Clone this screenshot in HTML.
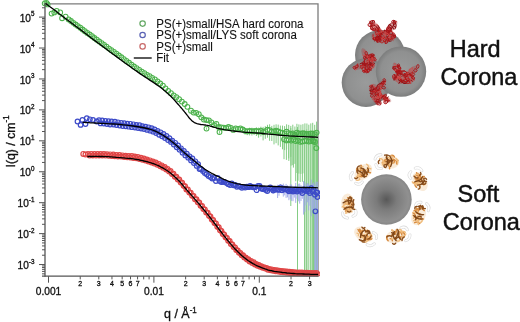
<!DOCTYPE html>
<html><head><meta charset="utf-8"><style>
html,body{margin:0;padding:0;background:#fff;width:520px;height:322px;overflow:hidden}
svg{display:block}
.mg circle{r:2.4px} .mb circle{r:2.3px} .mr circle{r:2.4px}
text{font-family:"Liberation Sans",Arial,sans-serif;fill:#111;stroke:#111;stroke-width:0.3px}
.lg{stroke-width:0.1px} .big{stroke-width:0.45px}
</style></head><body>
<svg width="520" height="322" viewBox="0 0 520 322">
<defs>
<clipPath id="clip"><rect x="41" y="-0.10000000000000009" width="279" height="276.3"/></clipPath>
<radialGradient id="gh" cx="50%" cy="50%" r="50%"><stop offset="0" stop-color="#9a9b9b"/><stop offset="0.8" stop-color="#8f9090"/><stop offset="1" stop-color="#7c7d7d"/></radialGradient>
<radialGradient id="gs" cx="50%" cy="50%" r="50%"><stop offset="0" stop-color="#585858"/><stop offset="0.4" stop-color="#7b7b7b"/><stop offset="0.88" stop-color="#909090"/><stop offset="1" stop-color="#868686"/></radialGradient>
</defs>
<path d="M45 3.9H318V276.2" stroke="#7c7c7c" stroke-width="1.3" fill="none"/>
<g clip-path="url(#clip)">
<path d="M191.0 110.0V111.4M193.6 112.0V113.3M196.2 112.1V113.5M198.8 113.5V114.9M201.3 116.3V118.4M203.9 117.9V121.3M206.4 118.5V121.8M208.9 118.9V121.8M211.4 121.3V123.5M213.9 123.4V127.1M216.4 122.1V126.0M218.8 125.5V128.5M221.3 125.9V128.9M223.7 126.6V128.8M226.1 127.2V128.8M228.5 125.8V128.4M230.9 126.3V129.5M233.3 129.0V130.8M235.7 126.7V130.5M238.0 127.8V130.0M240.4 126.8V130.2M242.7 127.9V131.3M245.0 127.9V134.6M247.3 128.5V135.2M249.6 127.7V135.4M251.9 127.7V135.5M254.1 128.1V135.0M256.4 127.3V136.0M258.6 127.6V137.7M260.9 126.7V136.5M263.1 126.9V140.4M265.3 126.2V138.8M267.5 124.8V137.7M269.6 124.3V140.8M271.8 125.9V141.0M274.0 124.8V144.4M276.1 124.3V143.2M278.2 124.6V145.4M280.4 125.6V146.9M282.5 125.6V149.3M284.6 126.1V150.1M286.6 124.3V149.4M288.7 124.9V158.4M290.8 125.9V156.9M292.8 124.7V165.2M294.9 126.5V163.9M296.9 123.8V173.0M298.9 124.4V173.6M300.9 124.7V173.9M302.9 124.2V173.4M304.9 123.4V276.2M306.9 123.5V276.2M308.8 124.7V200.3M310.8 123.4V276.2M312.7 122.8V276.2M314.7 124.8V276.2M316.6 121.6V276.2M284.0 131.6V159.2M286.4 132.8V159.9M288.8 131.5V160.9M291.1 132.3V165.6M293.4 131.0V167.6M295.7 132.0V181.3M298.0 131.5V180.7M300.2 132.8V182.0M302.4 132.5V181.7M304.6 130.3V276.2M306.7 129.5V276.2M308.8 131.4V276.2M310.9 131.0V276.2M313.0 130.2V276.2M315.0 131.3V276.2M206.5 127.5V129.8M219.5 130.5V133.7M316.3 137.9V276.2M313.5 131.1V276.2M290.8 128V206M297.5 127V276.2M317.5 131V276.2" stroke="#84cc84" stroke-width="1" fill="none"/>
<path d="M240.3 186.4V187.2M241.9 187.4V188.2M243.6 186.4V187.3M245.2 187.1V187.9M246.9 186.3V187.1M248.5 186.8V187.6M250.1 183.3V188.9M251.7 185.8V188.0M253.3 186.5V188.2M254.9 184.7V190.4M256.5 189.0V191.4M258.1 184.8V186.9M259.6 184.0V188.2M261.2 187.1V190.2M262.7 186.7V192.0M264.2 187.5V190.0M265.8 187.4V192.9M267.3 189.7V192.6M268.8 186.4V190.5M270.3 184.9V190.4M271.7 186.8V191.2M273.2 188.0V193.4M274.7 187.6V192.1M276.2 186.9V191.5M277.6 184.7V198.0M279.0 185.7V195.7M280.5 184.2V191.4M281.9 187.5V193.4M283.3 183.6V196.6M284.7 185.4V195.3M286.1 183.9V197.9M287.5 185.3V197.4M288.9 185.9V200.2M290.3 184.3V199.0M291.6 184.5V200.9M293.0 185.9V201.2M294.3 186.5V197.6M295.7 182.8V202.9M297.0 187.0V198.7M298.3 183.8V201.3M299.7 183.5V203.6M301.0 185.2V201.0M302.3 189.0V198.8M303.6 181.1V214.6M304.9 182.3V211.8M306.1 184.3V205.4M307.4 183.1V202.3M308.7 183.6V210.3M309.9 186.7V205.7M311.2 179.6V216.3M312.4 183.6V209.9M313.6 182.4V208.9M314.9 184.2V276.2M316.1 181.7V276.2M317.3 181.8V276.2M317.5 186.5V276.2M315.4 200.7V276.2" stroke="#9ea8e8" stroke-width="0.9" fill="none"/>
<g fill="none" stroke="#4cb24c" stroke-width="1.05" class="mg"><circle cx="44.7" cy="3.3"/><circle cx="46.5" cy="3.0"/><circle cx="47.6" cy="4.4"/><circle cx="51.6" cy="13.6"/><circle cx="54.3" cy="12.4"/><circle cx="56.7" cy="10.9"/><circle cx="60.2" cy="12.4"/><circle cx="62.1" cy="18.2"/><circle cx="65.6" cy="16.7"/><circle cx="68.7" cy="19.4"/><circle cx="71.0" cy="21.0"/><circle cx="73.3" cy="22.8"/><circle cx="75.6" cy="24.5"/><circle cx="77.9" cy="26.1"/><circle cx="80.3" cy="27.7"/><circle cx="82.6" cy="29.5"/><circle cx="84.9" cy="31.2"/><circle cx="87.3" cy="32.9"/><circle cx="89.7" cy="34.5"/><circle cx="92.1" cy="36.2"/><circle cx="94.4" cy="38.0"/><circle cx="96.8" cy="39.7"/><circle cx="99.2" cy="41.5"/><circle cx="101.7" cy="43.2"/><circle cx="104.1" cy="44.9"/><circle cx="106.5" cy="46.6"/><circle cx="109.0" cy="48.6"/><circle cx="111.4" cy="50.2"/><circle cx="113.9" cy="51.9"/><circle cx="116.4" cy="53.6"/><circle cx="118.9" cy="55.5"/><circle cx="121.4" cy="57.3"/><circle cx="123.9" cy="59.1"/><circle cx="126.4" cy="60.9"/><circle cx="129.0" cy="62.8"/><circle cx="131.5" cy="64.6"/><circle cx="134.0" cy="66.5"/><circle cx="136.6" cy="68.2"/><circle cx="139.2" cy="69.8"/><circle cx="141.8" cy="71.7"/><circle cx="144.4" cy="73.1"/><circle cx="147.0" cy="74.8"/><circle cx="149.6" cy="76.2"/><circle cx="152.2" cy="77.9"/><circle cx="154.9" cy="79.4"/><circle cx="157.5" cy="81.3"/><circle cx="160.2" cy="83.5"/><circle cx="162.9" cy="85.6"/><circle cx="165.5" cy="88.3"/><circle cx="168.2" cy="90.8"/><circle cx="171.0" cy="93.2"/><circle cx="173.7" cy="95.3"/><circle cx="176.4" cy="97.1"/><circle cx="179.1" cy="99.2"/><circle cx="181.9" cy="101.6"/><circle cx="184.7" cy="104.0"/><circle cx="187.4" cy="106.8"/><circle cx="191.0" cy="110.7"/><circle cx="193.6" cy="112.6"/><circle cx="196.2" cy="112.8"/><circle cx="198.8" cy="114.2"/><circle cx="201.3" cy="117.3"/><circle cx="203.9" cy="119.5"/><circle cx="206.4" cy="120.1"/><circle cx="208.9" cy="120.3"/><circle cx="211.4" cy="122.3"/><circle cx="213.9" cy="125.1"/><circle cx="216.4" cy="123.9"/><circle cx="218.8" cy="127.0"/><circle cx="221.3" cy="127.3"/><circle cx="223.7" cy="127.7"/><circle cx="226.1" cy="128.0"/><circle cx="228.5" cy="127.0"/><circle cx="230.9" cy="127.8"/><circle cx="233.3" cy="129.9"/><circle cx="235.7" cy="128.4"/><circle cx="238.0" cy="128.9"/><circle cx="240.4" cy="128.4"/><circle cx="242.7" cy="129.5"/><circle cx="245.0" cy="130.8"/><circle cx="247.3" cy="131.4"/><circle cx="249.6" cy="131.0"/><circle cx="251.9" cy="131.1"/><circle cx="254.1" cy="131.1"/><circle cx="256.4" cy="130.9"/><circle cx="258.6" cy="131.7"/><circle cx="260.9" cy="130.7"/><circle cx="263.1" cy="132.0"/><circle cx="265.3" cy="131.1"/><circle cx="267.5" cy="129.7"/><circle cx="269.6" cy="130.2"/><circle cx="271.8" cy="131.4"/><circle cx="274.0" cy="131.3"/><circle cx="276.1" cy="130.7"/><circle cx="278.2" cy="131.3"/><circle cx="280.4" cy="132.4"/><circle cx="282.5" cy="132.8"/><circle cx="284.6" cy="133.4"/><circle cx="286.6" cy="131.7"/><circle cx="288.7" cy="133.1"/><circle cx="290.8" cy="134.0"/><circle cx="292.8" cy="133.4"/><circle cx="294.9" cy="135.0"/><circle cx="296.9" cy="132.7"/><circle cx="298.9" cy="133.4"/><circle cx="300.9" cy="133.7"/><circle cx="302.9" cy="133.2"/><circle cx="304.9" cy="133.7"/><circle cx="306.9" cy="134.1"/><circle cx="308.8" cy="133.9"/><circle cx="310.8" cy="133.5"/><circle cx="312.7" cy="133.7"/><circle cx="314.7" cy="134.2"/><circle cx="316.6" cy="132.6"/><circle cx="284.0" cy="139.3"/><circle cx="286.4" cy="140.4"/><circle cx="288.8" cy="139.4"/><circle cx="291.1" cy="140.6"/><circle cx="293.4" cy="139.4"/><circle cx="295.7" cy="141.0"/><circle cx="298.0" cy="140.5"/><circle cx="300.2" cy="141.8"/><circle cx="302.4" cy="141.5"/><circle cx="304.6" cy="140.9"/><circle cx="306.7" cy="140.7"/><circle cx="308.8" cy="141.5"/><circle cx="310.9" cy="141.1"/><circle cx="313.0" cy="140.4"/><circle cx="315.0" cy="142.0"/><circle cx="206.5" cy="128.6"/><circle cx="219.5" cy="132.0"/><circle cx="316.3" cy="148.1"/><circle cx="313.5" cy="141.5"/></g>
<g fill="none" stroke="#3c4ac8" stroke-width="1.2" class="mb"><circle cx="77.5" cy="121.5"/><circle cx="80.6" cy="124.9"/><circle cx="82.4" cy="119.9"/><circle cx="85.5" cy="124.0"/><circle cx="86.8" cy="118.1"/><circle cx="89.9" cy="119.3"/><circle cx="93.0" cy="119.9"/><circle cx="96.7" cy="121.5"/><circle cx="99.0" cy="120.1"/><circle cx="100.6" cy="123.4"/><circle cx="102.2" cy="120.5"/><circle cx="103.8" cy="123.6"/><circle cx="105.4" cy="121.0"/><circle cx="107.0" cy="124.0"/><circle cx="108.6" cy="121.2"/><circle cx="110.1" cy="124.6"/><circle cx="111.7" cy="121.5"/><circle cx="113.3" cy="124.6"/><circle cx="114.9" cy="121.7"/><circle cx="116.4" cy="125.0"/><circle cx="118.0" cy="122.3"/><circle cx="119.6" cy="125.5"/><circle cx="121.1" cy="122.8"/><circle cx="122.7" cy="126.0"/><circle cx="124.2" cy="123.2"/><circle cx="125.8" cy="126.3"/><circle cx="127.3" cy="123.6"/><circle cx="128.9" cy="126.7"/><circle cx="130.4" cy="123.8"/><circle cx="131.9" cy="127.2"/><circle cx="133.5" cy="124.3"/><circle cx="135.0" cy="127.5"/><circle cx="136.5" cy="125.0"/><circle cx="138.1" cy="128.1"/><circle cx="139.6" cy="125.2"/><circle cx="141.1" cy="128.5"/><circle cx="142.6" cy="126.1"/><circle cx="144.1" cy="129.1"/><circle cx="145.6" cy="126.6"/><circle cx="147.2" cy="129.9"/><circle cx="148.7" cy="127.3"/><circle cx="150.2" cy="130.7"/><circle cx="151.7" cy="128.1"/><circle cx="153.2" cy="131.7"/><circle cx="154.6" cy="129.4"/><circle cx="156.1" cy="133.0"/><circle cx="157.6" cy="130.9"/><circle cx="159.1" cy="134.8"/><circle cx="160.6" cy="132.3"/><circle cx="162.1" cy="136.3"/><circle cx="163.5" cy="134.0"/><circle cx="165.0" cy="138.0"/><circle cx="166.5" cy="136.0"/><circle cx="168.0" cy="140.1"/><circle cx="169.4" cy="138.1"/><circle cx="170.9" cy="141.9"/><circle cx="172.3" cy="140.6"/><circle cx="173.8" cy="144.6"/><circle cx="175.2" cy="142.8"/><circle cx="176.7" cy="147.3"/><circle cx="178.1" cy="145.5"/><circle cx="179.6" cy="149.7"/><circle cx="181.0" cy="148.3"/><circle cx="182.5" cy="152.7"/><circle cx="183.9" cy="150.9"/><circle cx="185.3" cy="155.4"/><circle cx="186.8" cy="153.6"/><circle cx="188.2" cy="157.7"/><circle cx="189.6" cy="156.3"/><circle cx="191.0" cy="160.4"/><circle cx="192.4" cy="158.4"/><circle cx="193.9" cy="163.0"/><circle cx="195.3" cy="161.3"/><circle cx="196.7" cy="165.9"/><circle cx="198.1" cy="164.1"/><circle cx="199.5" cy="169.0"/><circle cx="201.0" cy="169.2"/><circle cx="202.9" cy="171.1"/><circle cx="204.8" cy="173.0"/><circle cx="206.7" cy="174.3"/><circle cx="208.5" cy="176.0"/><circle cx="210.4" cy="177.0"/><circle cx="212.2" cy="178.6"/><circle cx="214.1" cy="178.0"/><circle cx="215.9" cy="181.1"/><circle cx="217.7" cy="178.0"/><circle cx="219.5" cy="180.9"/><circle cx="221.3" cy="182.1"/><circle cx="223.1" cy="181.9"/><circle cx="224.8" cy="182.1"/><circle cx="226.6" cy="183.1"/><circle cx="228.3" cy="184.2"/><circle cx="230.1" cy="185.1"/><circle cx="231.8" cy="183.4"/><circle cx="233.5" cy="185.3"/><circle cx="235.2" cy="185.0"/><circle cx="236.9" cy="186.8"/><circle cx="238.6" cy="185.9"/><circle cx="240.3" cy="186.8"/><circle cx="241.9" cy="187.8"/><circle cx="243.6" cy="186.8"/><circle cx="245.2" cy="187.5"/><circle cx="246.9" cy="186.7"/><circle cx="248.5" cy="187.2"/><circle cx="250.1" cy="185.8"/><circle cx="251.7" cy="186.9"/><circle cx="253.3" cy="187.3"/><circle cx="254.9" cy="187.2"/><circle cx="256.5" cy="190.2"/><circle cx="258.1" cy="185.8"/><circle cx="259.6" cy="185.9"/><circle cx="261.2" cy="188.6"/><circle cx="262.7" cy="189.1"/><circle cx="264.2" cy="188.7"/><circle cx="265.8" cy="189.9"/><circle cx="267.3" cy="191.0"/><circle cx="268.8" cy="188.3"/><circle cx="270.3" cy="187.4"/><circle cx="271.7" cy="188.8"/><circle cx="273.2" cy="190.5"/><circle cx="274.7" cy="189.7"/><circle cx="276.2" cy="189.0"/><circle cx="277.6" cy="189.7"/><circle cx="279.0" cy="189.8"/><circle cx="280.5" cy="187.3"/><circle cx="281.9" cy="190.2"/><circle cx="283.3" cy="188.6"/><circle cx="284.7" cy="189.4"/><circle cx="286.1" cy="189.1"/><circle cx="287.5" cy="190.0"/><circle cx="288.9" cy="191.3"/><circle cx="290.3" cy="189.8"/><circle cx="291.6" cy="190.4"/><circle cx="293.0" cy="191.5"/><circle cx="294.3" cy="190.9"/><circle cx="295.7" cy="189.4"/><circle cx="297.0" cy="191.6"/><circle cx="298.3" cy="189.9"/><circle cx="299.7" cy="190.1"/><circle cx="301.0" cy="190.9"/><circle cx="302.3" cy="193.0"/><circle cx="303.6" cy="189.4"/><circle cx="304.9" cy="190.1"/><circle cx="306.1" cy="191.1"/><circle cx="307.4" cy="189.5"/><circle cx="308.7" cy="191.1"/><circle cx="309.9" cy="193.1"/><circle cx="311.2" cy="188.1"/><circle cx="312.4" cy="191.2"/><circle cx="313.6" cy="190.0"/><circle cx="314.9" cy="194.7"/><circle cx="316.1" cy="192.3"/><circle cx="317.3" cy="192.4"/><circle cx="317.5" cy="197.1"/><circle cx="315.4" cy="211.3"/></g>
<g fill="none" stroke="#e04646" stroke-width="1.2" class="mr"><circle cx="83.3" cy="153.9"/><circle cx="85.5" cy="154.5"/><circle cx="88.0" cy="154.0"/><circle cx="89.6" cy="155.6"/><circle cx="91.2" cy="153.9"/><circle cx="92.8" cy="155.4"/><circle cx="94.4" cy="154.0"/><circle cx="96.0" cy="155.5"/><circle cx="97.6" cy="154.0"/><circle cx="99.1" cy="155.5"/><circle cx="100.7" cy="154.0"/><circle cx="102.3" cy="155.5"/><circle cx="103.9" cy="154.0"/><circle cx="105.4" cy="155.6"/><circle cx="107.0" cy="154.2"/><circle cx="108.6" cy="155.8"/><circle cx="110.1" cy="154.4"/><circle cx="111.7" cy="155.9"/><circle cx="113.3" cy="154.6"/><circle cx="114.8" cy="156.2"/><circle cx="116.4" cy="154.9"/><circle cx="117.9" cy="156.5"/><circle cx="119.5" cy="155.1"/><circle cx="121.0" cy="156.6"/><circle cx="122.6" cy="155.4"/><circle cx="124.1" cy="156.9"/><circle cx="125.6" cy="155.7"/><circle cx="127.2" cy="157.2"/><circle cx="128.7" cy="155.9"/><circle cx="130.2" cy="157.6"/><circle cx="131.8" cy="156.1"/><circle cx="133.3" cy="157.9"/><circle cx="134.8" cy="156.5"/><circle cx="136.3" cy="158.3"/><circle cx="137.8" cy="157.1"/><circle cx="139.4" cy="159.0"/><circle cx="140.9" cy="157.8"/><circle cx="142.4" cy="159.7"/><circle cx="143.9" cy="158.6"/><circle cx="145.4" cy="160.4"/><circle cx="146.9" cy="159.6"/><circle cx="148.4" cy="161.5"/><circle cx="149.9" cy="160.4"/><circle cx="151.4" cy="162.5"/><circle cx="152.9" cy="161.6"/><circle cx="154.3" cy="163.6"/><circle cx="155.8" cy="162.6"/><circle cx="157.3" cy="164.8"/><circle cx="158.8" cy="163.9"/><circle cx="160.3" cy="166.2"/><circle cx="161.7" cy="165.4"/><circle cx="163.2" cy="167.8"/><circle cx="164.7" cy="167.0"/><circle cx="166.2" cy="169.4"/><circle cx="167.6" cy="168.9"/><circle cx="169.1" cy="171.5"/><circle cx="170.5" cy="171.1"/><circle cx="172.0" cy="173.9"/><circle cx="173.4" cy="173.7"/><circle cx="174.9" cy="176.7"/><circle cx="176.3" cy="176.7"/><circle cx="177.8" cy="179.6"/><circle cx="179.2" cy="179.6"/><circle cx="180.7" cy="182.6"/><circle cx="182.1" cy="182.8"/><circle cx="183.6" cy="185.8"/><circle cx="185.0" cy="186.2"/><circle cx="186.4" cy="189.4"/><circle cx="187.8" cy="189.6"/><circle cx="189.3" cy="192.5"/><circle cx="190.7" cy="192.7"/><circle cx="192.1" cy="195.8"/><circle cx="193.5" cy="195.9"/><circle cx="195.0" cy="199.2"/><circle cx="196.4" cy="199.3"/><circle cx="197.8" cy="202.3"/><circle cx="199.2" cy="202.6"/><circle cx="200.6" cy="205.7"/><circle cx="202.0" cy="206.0"/><circle cx="203.4" cy="209.0"/><circle cx="204.8" cy="209.6"/><circle cx="206.2" cy="212.5"/><circle cx="207.6" cy="212.8"/><circle cx="209.0" cy="215.7"/><circle cx="210.4" cy="216.5"/><circle cx="211.8" cy="219.5"/><circle cx="213.1" cy="220.0"/><circle cx="214.5" cy="222.9"/><circle cx="215.9" cy="223.6"/><circle cx="217.3" cy="226.7"/><circle cx="218.7" cy="227.3"/><circle cx="220.0" cy="230.3"/><circle cx="221.4" cy="231.0"/><circle cx="222.8" cy="233.9"/><circle cx="224.1" cy="234.5"/><circle cx="225.5" cy="237.3"/><circle cx="226.9" cy="238.0"/><circle cx="228.2" cy="240.7"/><circle cx="229.6" cy="241.1"/><circle cx="230.9" cy="243.9"/><circle cx="232.3" cy="244.5"/><circle cx="233.6" cy="247.1"/><circle cx="235.0" cy="247.4"/><circle cx="236.3" cy="250.0"/><circle cx="237.7" cy="250.5"/><circle cx="239.0" cy="252.7"/><circle cx="240.3" cy="252.9"/><circle cx="241.7" cy="255.2"/><circle cx="243.0" cy="255.2"/><circle cx="244.3" cy="257.6"/><circle cx="245.7" cy="257.5"/><circle cx="247.0" cy="259.5"/><circle cx="248.3" cy="259.2"/><circle cx="249.6" cy="261.4"/><circle cx="251.0" cy="261.1"/><circle cx="252.3" cy="262.9"/><circle cx="253.6" cy="262.3"/><circle cx="254.9" cy="264.4"/><circle cx="256.2" cy="263.9"/><circle cx="257.5" cy="265.7"/><circle cx="258.8" cy="265.1"/><circle cx="260.1" cy="266.7"/><circle cx="261.4" cy="266.3"/><circle cx="262.7" cy="267.8"/><circle cx="264.0" cy="267.3"/><circle cx="265.3" cy="268.6"/><circle cx="266.6" cy="268.1"/><circle cx="267.9" cy="269.7"/><circle cx="269.2" cy="268.9"/><circle cx="270.5" cy="270.2"/><circle cx="271.7" cy="269.4"/><circle cx="273.0" cy="270.7"/><circle cx="274.3" cy="269.9"/><circle cx="275.6" cy="271.3"/><circle cx="276.9" cy="270.3"/><circle cx="278.1" cy="271.6"/><circle cx="279.4" cy="270.7"/><circle cx="280.7" cy="271.9"/><circle cx="281.9" cy="271.1"/><circle cx="283.2" cy="272.3"/><circle cx="284.5" cy="271.3"/><circle cx="285.7" cy="272.5"/><circle cx="287.0" cy="271.6"/><circle cx="288.2" cy="272.8"/><circle cx="289.5" cy="271.7"/><circle cx="290.7" cy="273.1"/><circle cx="292.0" cy="272.0"/><circle cx="293.2" cy="273.3"/><circle cx="294.5" cy="272.2"/><circle cx="295.7" cy="273.4"/><circle cx="296.9" cy="272.4"/><circle cx="298.2" cy="273.5"/><circle cx="299.4" cy="272.5"/><circle cx="300.6" cy="273.5"/><circle cx="301.9" cy="272.5"/><circle cx="303.1" cy="273.8"/><circle cx="304.3" cy="272.7"/><circle cx="305.6" cy="273.8"/><circle cx="306.8" cy="272.7"/><circle cx="308.0" cy="274.0"/><circle cx="309.2" cy="273.0"/><circle cx="310.4" cy="273.7"/><circle cx="311.6" cy="273.0"/><circle cx="312.8" cy="274.0"/><circle cx="314.1" cy="273.1"/><circle cx="315.3" cy="274.2"/><circle cx="316.5" cy="272.9"/><circle cx="317.7" cy="274.3"/></g>
<polyline points="45.4,3.3 48.9,6.0 53.8,9.6 59.5,14.0 65.8,18.8 72.4,23.7 78.8,28.6 84.8,33.1 90.0,37.0 94.5,40.4 98.8,43.5 102.8,46.5 106.5,49.3 110.1,52.0 113.5,54.5 116.8,56.9 120.0,59.2 123.0,61.4 125.7,63.4 128.3,65.3 130.7,67.0 133.0,68.7 135.3,70.3 137.6,71.9 140.0,73.6 142.4,75.3 144.9,76.9 147.4,78.5 149.8,80.1 152.2,81.6 154.5,83.1 156.6,84.6 158.6,86.0 160.4,87.3 162.0,88.6 163.5,89.8 164.9,91.0 166.2,92.1 167.5,93.2 168.7,94.4 170.0,95.6 171.3,96.8 172.5,98.1 173.8,99.4 175.0,100.7 176.1,102.0 177.2,103.3 178.3,104.5 179.3,105.6 180.2,106.7 181.1,107.7 181.9,108.6 182.7,109.6 183.4,110.5 184.1,111.3 184.8,112.2 185.5,113.0 186.1,113.8 186.7,114.6 187.3,115.4 187.9,116.1 188.4,116.8 188.9,117.5 189.4,118.2 190.0,118.8 190.6,119.4 191.1,119.9 191.6,120.5 192.2,121.0 192.7,121.4 193.3,121.8 193.9,122.2 194.5,122.6 195.1,122.9 195.7,123.2 196.4,123.4 197.0,123.6 197.7,123.8 198.4,124.0 199.2,124.1 200.0,124.3 200.9,124.5 201.9,124.6 202.9,124.7 203.9,124.9 205.0,125.0 206.2,125.2 207.4,125.3 208.6,125.6 209.8,125.9 211.1,126.3 212.4,126.7 213.7,127.1 215.1,127.5 216.6,128.0 218.2,128.4 220.0,128.8 222.0,129.2 224.1,129.6 226.3,129.9 228.7,130.3 231.1,130.7 233.6,131.0 236.1,131.3 238.6,131.6 241.1,131.9 243.7,132.1 246.3,132.3 248.9,132.4 251.6,132.6 254.3,132.8 257.1,133.0 260.0,133.2 262.9,133.5 265.8,133.8 268.8,134.1 271.8,134.4 274.9,134.7 278.1,135.0 281.5,135.3 285.0,135.6 289.0,135.9 293.5,136.1 298.2,136.4 303.1,136.6 307.7,136.8 311.9,137.0 315.4,137.2 318.0,137.3" fill="none" stroke="#000" stroke-width="1.3" stroke-linejoin="round"/>
<polyline points="82.5,122.3 83.4,122.3 84.5,122.4 85.7,122.5 87.2,122.6 88.8,122.6 90.7,122.8 92.8,122.9 95.0,123.0 97.5,123.1 100.4,123.3 103.5,123.4 106.7,123.6 110.1,123.8 113.5,124.0 116.8,124.2 120.0,124.5 123.2,124.8 126.5,125.2 129.9,125.6 133.2,126.0 136.5,126.5 139.6,127.0 142.4,127.5 145.0,128.0 147.2,128.5 149.2,129.0 150.9,129.5 152.4,130.0 153.9,130.6 155.3,131.2 156.8,131.9 158.4,132.7 160.1,133.6 161.7,134.5 163.4,135.5 165.1,136.6 166.7,137.7 168.4,138.9 170.0,140.1 171.7,141.4 173.4,142.8 175.1,144.3 176.9,145.8 178.6,147.4 180.3,149.0 182.0,150.6 183.6,152.1 185.1,153.4 186.5,154.6 187.8,155.7 189.0,156.7 190.2,157.7 191.3,158.7 192.5,159.6 193.7,160.6 195.0,161.6 196.4,162.7 197.8,163.8 199.2,164.9 200.6,166.0 202.1,167.1 203.6,168.2 205.0,169.2 206.5,170.2 207.9,171.1 209.4,172.0 210.8,172.8 212.3,173.6 213.8,174.3 215.2,175.1 216.7,175.8 218.1,176.5 219.5,177.2 221.0,177.9 222.4,178.6 223.9,179.3 225.3,179.9 226.7,180.5 228.2,181.1 229.6,181.6 231.0,182.1 232.4,182.5 233.8,182.9 235.2,183.2 236.6,183.6 238.1,183.9 239.5,184.1 241.1,184.4 242.6,184.6 244.0,184.8 245.3,185.0 246.8,185.1 248.4,185.3 250.2,185.4 252.4,185.5 255.0,185.7 258.1,185.9 261.8,186.0 265.7,186.2 269.9,186.4 274.3,186.5 278.6,186.7 282.9,186.9 287.0,187.0 291.1,187.1 295.5,187.3 300.1,187.4 304.5,187.5 308.7,187.6 312.5,187.7 315.6,187.7 318.0,187.8" fill="none" stroke="#000" stroke-width="1.3" stroke-linejoin="round"/>
<polyline points="87.3,156.5 88.6,156.5 90.4,156.5 92.4,156.5 94.7,156.4 97.2,156.4 99.8,156.5 102.4,156.5 105.0,156.6 107.7,156.7 110.6,156.9 113.7,157.1 116.9,157.4 120.0,157.6 122.9,157.8 125.6,158.1 128.0,158.3 130.0,158.5 131.7,158.7 133.2,158.9 134.5,159.1 135.8,159.3 137.0,159.5 138.2,159.7 139.6,160.0 141.1,160.3 142.5,160.6 144.0,161.0 145.5,161.3 147.0,161.7 148.4,162.1 149.8,162.5 151.1,162.9 152.3,163.3 153.5,163.7 154.6,164.1 155.7,164.5 156.7,165.0 157.8,165.4 158.9,165.9 160.0,166.5 161.1,167.1 162.3,167.7 163.5,168.3 164.6,169.0 165.8,169.7 167.0,170.5 168.1,171.3 169.3,172.1 170.5,173.0 171.6,173.9 172.8,174.9 174.0,176.0 175.1,177.1 176.3,178.2 177.4,179.3 178.6,180.5 179.8,181.7 180.9,183.0 182.1,184.3 183.2,185.7 184.4,187.1 185.6,188.5 186.7,189.9 187.9,191.2 189.1,192.5 190.2,193.8 191.4,195.1 192.5,196.4 193.7,197.7 194.8,199.1 196.0,200.4 197.2,201.8 198.4,203.2 199.7,204.7 200.9,206.2 202.2,207.7 203.4,209.2 204.7,210.7 205.9,212.2 207.0,213.6 208.1,214.9 209.1,216.2 210.1,217.5 211.0,218.7 212.0,220.0 213.0,221.2 214.0,222.6 215.1,224.0 216.3,225.5 217.5,227.1 218.7,228.8 220.0,230.5 221.3,232.2 222.6,233.9 223.9,235.6 225.2,237.2 226.5,238.8 227.7,240.3 229.0,241.9 230.2,243.4 231.5,244.9 232.8,246.4 234.0,247.8 235.3,249.2 236.6,250.5 237.8,251.8 239.1,253.0 240.4,254.3 241.6,255.4 242.9,256.5 244.1,257.6 245.4,258.6 246.7,259.6 247.9,260.5 249.2,261.3 250.5,262.1 251.8,262.9 253.0,263.6 254.3,264.3 255.5,265.0 256.7,265.6 258.0,266.2 259.2,266.7 260.4,267.2 261.6,267.7 262.8,268.1 263.9,268.5 265.0,268.9 266.0,269.2 266.8,269.5 267.6,269.8 268.4,270.1 269.3,270.3 270.2,270.5 271.3,270.7 272.7,271.0 274.3,271.3 276.2,271.6 278.2,271.9 280.3,272.2 282.5,272.5 284.7,272.7 286.9,273.0 289.0,273.2 291.1,273.4 293.2,273.5 295.3,273.7 297.4,273.8 299.5,273.9 301.6,273.9 303.5,274.0 305.4,274.1 307.2,274.2 309.1,274.2 311.0,274.3 312.7,274.3 314.4,274.3 315.8,274.4 317.1,274.4 318.0,274.4" fill="none" stroke="#000" stroke-width="1.3" stroke-linejoin="round"/>
</g>
<line x1="45" y1="3.3" x2="45" y2="276.8" stroke="#555" stroke-width="1.3"/>
<line x1="42" y1="276.2" x2="318.6" y2="276.2" stroke="#555" stroke-width="1.3"/>
<text transform="translate(34.40,269.14) scale(1,1.05)" font-size="10.1" text-anchor="end">10<tspan font-size="6.3" dy="-5.0">-3</tspan></text>
<text transform="translate(34.40,238.21) scale(1,1.05)" font-size="10.1" text-anchor="end">10<tspan font-size="6.3" dy="-5.0">-2</tspan></text>
<text transform="translate(34.40,207.28) scale(1,1.05)" font-size="10.1" text-anchor="end">10<tspan font-size="6.3" dy="-5.0">-1</tspan></text>
<text transform="translate(34.40,176.35) scale(1,1.05)" font-size="10.1" text-anchor="end">10<tspan font-size="6.3" dy="-5.0">0</tspan></text>
<text transform="translate(34.40,145.42) scale(1,1.05)" font-size="10.1" text-anchor="end">10<tspan font-size="6.3" dy="-5.0">1</tspan></text>
<text transform="translate(34.40,114.49) scale(1,1.05)" font-size="10.1" text-anchor="end">10<tspan font-size="6.3" dy="-5.0">2</tspan></text>
<text transform="translate(34.40,83.56) scale(1,1.05)" font-size="10.1" text-anchor="end">10<tspan font-size="6.3" dy="-5.0">3</tspan></text>
<text transform="translate(34.40,52.63) scale(1,1.05)" font-size="10.1" text-anchor="end">10<tspan font-size="6.3" dy="-5.0">4</tspan></text>
<text transform="translate(34.40,21.70) scale(1,1.05)" font-size="10.1" text-anchor="end">10<tspan font-size="6.3" dy="-5.0">5</tspan></text>
<text transform="translate(48.50,294.60) scale(1,1.05)" font-size="10.2" text-anchor="middle">0.001</text>
<text transform="translate(80.23,286.00) scale(1,1.05)" font-size="7" text-anchor="middle">2</text>
<text transform="translate(98.79,286.00) scale(1,1.05)" font-size="7" text-anchor="middle">3</text>
<text transform="translate(111.96,286.00) scale(1,1.05)" font-size="7" text-anchor="middle">4</text>
<text transform="translate(122.17,286.00) scale(1,1.05)" font-size="7" text-anchor="middle">5</text>
<text transform="translate(130.52,286.00) scale(1,1.05)" font-size="7" text-anchor="middle">6</text>
<text transform="translate(137.57,286.00) scale(1,1.05)" font-size="7" text-anchor="middle">7</text>
<text transform="translate(153.90,294.60) scale(1,1.05)" font-size="10.2" text-anchor="middle">0.01</text>
<text transform="translate(185.63,286.00) scale(1,1.05)" font-size="7" text-anchor="middle">2</text>
<text transform="translate(204.19,286.00) scale(1,1.05)" font-size="7" text-anchor="middle">3</text>
<text transform="translate(217.36,286.00) scale(1,1.05)" font-size="7" text-anchor="middle">4</text>
<text transform="translate(227.57,286.00) scale(1,1.05)" font-size="7" text-anchor="middle">5</text>
<text transform="translate(235.92,286.00) scale(1,1.05)" font-size="7" text-anchor="middle">6</text>
<text transform="translate(242.97,286.00) scale(1,1.05)" font-size="7" text-anchor="middle">7</text>
<text transform="translate(259.30,294.60) scale(1,1.05)" font-size="10.2" text-anchor="middle">0.1</text>
<text transform="translate(291.03,286.00) scale(1,1.05)" font-size="7" text-anchor="middle">2</text>
<text transform="translate(309.59,286.00) scale(1,1.05)" font-size="7" text-anchor="middle">3</text>
<path d="M42 273.85H45M42 271.40H45M42 269.33H45M42 267.54H45M42 265.96H45M39 264.54H45M42 255.23H45M42 249.78H45M42 245.92H45M42 242.92H45M42 240.47H45M42 238.40H45M42 236.61H45M42 235.03H45M39 233.61H45M42 224.30H45M42 218.85H45M42 214.99H45M42 211.99H45M42 209.54H45M42 207.47H45M42 205.68H45M42 204.10H45M39 202.68H45M42 193.37H45M42 187.92H45M42 184.06H45M42 181.06H45M42 178.61H45M42 176.54H45M42 174.75H45M42 173.17H45M39 171.75H45M42 162.44H45M42 156.99H45M42 153.13H45M42 150.13H45M42 147.68H45M42 145.61H45M42 143.82H45M42 142.24H45M39 140.82H45M42 131.51H45M42 126.06H45M42 122.20H45M42 119.20H45M42 116.75H45M42 114.68H45M42 112.89H45M42 111.31H45M39 109.89H45M42 100.58H45M42 95.13H45M42 91.27H45M42 88.27H45M42 85.82H45M42 83.75H45M42 81.96H45M42 80.38H45M39 78.96H45M42 69.65H45M42 64.20H45M42 60.34H45M42 57.34H45M42 54.89H45M42 52.82H45M42 51.03H45M42 49.45H45M39 48.03H45M42 38.72H45M42 33.27H45M42 29.41H45M42 26.41H45M42 23.96H45M42 21.89H45M42 20.10H45M42 18.52H45M39 17.10H45M42 7.79H45M48.50 276.2V282.7M80.23 276.2V279.4M98.79 276.2V279.4M111.96 276.2V279.4M122.17 276.2V279.4M130.52 276.2V279.4M137.57 276.2V279.4M143.69 276.2V279.4M149.08 276.2V279.4M153.90 276.2V282.7M185.63 276.2V279.4M204.19 276.2V279.4M217.36 276.2V279.4M227.57 276.2V279.4M235.92 276.2V279.4M242.97 276.2V279.4M249.09 276.2V279.4M254.48 276.2V279.4M259.30 276.2V282.7M291.03 276.2V279.4M309.59 276.2V279.4" stroke="#555" stroke-width="1"/>
<text transform="translate(14.6,167.5) rotate(-90) scale(1,1.05)" font-size="12.3">I(q) / cm<tspan font-size="8" dy="-5">-1</tspan></text>
<text transform="translate(164.00,318.40) scale(1,1.05)" font-size="12.5">q / Å<tspan font-size="8" dy="-5.5">-1</tspan></text>
<circle cx="142.6" cy="23.6" r="2.7" stroke="#64a864" stroke-width="1.2" fill="none"/>
<text transform="translate(156.30,27.70) scale(1,1.05)" font-size="11.5" class="lg">PS(+)small/HSA hard corona</text>
<circle cx="142.6" cy="35.0" r="2.7" stroke="#5a62b4" stroke-width="1.2" fill="none"/>
<text transform="translate(156.30,39.10) scale(1,1.05)" font-size="11.5" class="lg">PS(+)small/LYS soft corona</text>
<circle cx="142.6" cy="46.4" r="2.7" stroke="#c86868" stroke-width="1.2" fill="none"/>
<text transform="translate(156.30,50.50) scale(1,1.05)" font-size="11.5" class="lg">PS(+)small</text>
<line x1="133.8" y1="58.0" x2="151.7" y2="58.0" stroke="#000" stroke-width="1.3"/>
<text transform="translate(156.30,62.40) scale(1,1.05)" font-size="11.5" class="lg">Fit</text>
<text transform="translate(475.20,57.30) scale(1,1.02)" font-size="23.5" text-anchor="middle" class="big">Hard</text>
<text transform="translate(478.90,85.10) scale(1,1.02)" font-size="23.5" text-anchor="middle" class="big">Corona</text>
<text transform="translate(478.50,201.90) scale(1,1.02)" font-size="23.5" text-anchor="middle" class="big">Soft</text>
<text transform="translate(481.30,229.70) scale(1,1.02)" font-size="23.5" text-anchor="middle" class="big">Corona</text>
<circle cx="380" cy="55" r="25" fill="url(#gh)"/>
<circle cx="366" cy="82.6" r="24.3" fill="url(#gh)"/>
<circle cx="401" cy="71.6" r="25.2" fill="url(#gh)"/>
<g transform="translate(383.5,32.0) rotate(0) scale(1.06)"><g fill="#a83030" opacity="0.3"><ellipse cx="-7.5" cy="-4.5" rx="8" ry="3.4" transform="rotate(-130 -7.5 -4.5)"/><ellipse cx="7.5" cy="-4.5" rx="8" ry="3.4" transform="rotate(-50 7.5 -4.5)"/><ellipse cx="0" cy="4" rx="11.5" ry="6"/></g><path d="M4.9 6.7Q4.7 9.7 7.4 8.4M-8.6 -7.5Q-10.0 -4.5 -12.6 -6.5M7.8 -2.9Q8.9 -6.1 5.5 -6.7M0.6 1.0Q-2.0 -0.6 -2.3 2.5M4.0 -4.4Q6.7 -6.0 7.3 -2.9M4.2 4.4Q2.5 7.6 -0.7 5.9M-3.9 -4.3Q-5.6 -0.9 -2.3 1.2M-13.3 -8.8Q-10.3 -7.6 -10.0 -10.8M-6.5 2.3Q-4.0 -0.0 -1.9 2.8M3.1 -1.8Q0.1 -1.3 1.8 1.2M9.8 -10.7Q7.9 -7.2 11.0 -4.6M-5.9 9.6Q-7.2 5.6 -3.7 3.3M2.6 1.8Q2.8 6.2 7.0 7.1M-6.0 4.3Q-2.6 4.0 -3.4 0.7M4.4 -3.4Q3.7 -7.0 7.3 -7.7M10.7 -7.8Q7.6 -5.9 9.6 -2.8M-9.4 7.3Q-9.6 4.2 -6.9 5.5M10.7 -2.8Q13.2 -6.3 10.5 -9.7M-0.2 5.6Q-4.0 5.1 -3.8 1.3M-3.1 4.2Q-6.2 5.1 -6.2 1.9M-4.6 5.5Q-8.0 4.9 -8.2 8.4M-5.8 -3.4Q-7.4 -7.3 -11.6 -6.6M-5.4 -6.3Q-3.0 -3.4 -5.8 -0.8M1.0 -1.9Q0.7 1.5 4.2 1.4" stroke="#8a0c10" stroke-width="0.95" fill="none" stroke-linecap="round"/><path d="M-2.2 6.1Q0.3 3.5 2.6 6.1M-2.7 9.9Q0.0 11.4 0.3 8.3M7.4 -1.3Q3.9 0.8 5.2 4.7M0.2 -0.9Q-3.2 -0.8 -2.6 2.6M5.0 3.2Q1.7 5.3 3.4 8.8M-3.4 1.4Q-2.2 5.0 -5.8 6.4M2.9 -0.7Q6.0 0.8 7.1 -2.4M12.4 -9.6Q9.9 -7.7 9.2 -10.7M-1.6 4.0Q-2.0 8.1 1.9 9.4M1.4 4.2Q-1.9 3.9 -0.8 0.8M-10.5 6.4Q-7.1 8.7 -4.2 5.8M-10.3 -2.2Q-6.5 -1.2 -7.1 2.7M-3.3 -3.0Q-6.5 -2.3 -6.3 -5.5M3.0 8.4Q7.3 8.4 8.5 4.3M3.9 -0.8Q1.9 2.1 5.0 3.8M-6.0 5.9Q-7.1 2.6 -3.7 1.8M-1.8 -1.8Q-5.1 -0.5 -3.4 2.6M6.5 -1.8Q3.3 -2.1 4.6 -5.1M-3.0 2.7Q-3.3 -1.5 -7.5 -2.3M-8.4 -4.7Q-6.9 -1.1 -3.1 -2.2M-9.9 2.6Q-10.4 6.9 -6.4 8.6M4.7 6.8Q7.4 4.7 9.1 7.7M-4.7 -2.7Q-6.1 1.2 -2.7 3.5" stroke="#b81a1a" stroke-width="0.9" fill="none" stroke-linecap="round"/><path d="M0.9 6.1Q4.3 7.5 5.7 4.1M-12.1 -4.7Q-10.1 -8.0 -13.2 -10.4M5.1 2.2Q2.2 0.3 4.5 -2.3M9.6 6.9Q8.0 4.0 11.2 3.3M-3.6 -2.5Q-0.6 -1.9 -2.3 0.7M-1.3 7.7Q-1.1 3.7 2.9 3.2M1.1 6.2Q-1.0 8.4 -2.1 5.5M-4.3 -5.6Q-5.5 -8.5 -7.7 -6.4M-6.6 -6.7Q-8.6 -9.0 -10.0 -6.2M4.9 3.1Q7.9 4.7 9.1 1.4M-6.2 4.7Q-7.1 1.1 -3.5 0.1M1.6 0.5Q5.1 0.1 4.4 -3.3M8.4 3.1Q8.6 6.7 5.0 6.8M-10.4 -6.7Q-7.3 -4.7 -9.3 -1.6M0.9 1.5Q4.8 -0.4 7.7 2.8M1.5 -0.7Q5.4 -1.5 5.2 -5.5M-3.8 0.9Q-1.1 -1.8 1.8 0.7M5.7 1.5Q7.4 -1.5 10.0 0.7M0.3 5.6Q-2.8 4.4 -3.6 7.7M-1.0 0.9Q0.2 4.1 3.0 2.2M-9.4 4.0Q-8.7 7.2 -5.8 5.7M1.2 0.1Q5.4 0.8 5.8 5.0M-7.5 2.3Q-6.3 -0.6 -4.2 1.7" stroke="#d04848" stroke-width="0.75" fill="none" stroke-linecap="round"/><g fill="none" stroke="#a81418" stroke-width="0.9"><ellipse cx="-3.7" cy="5.3" rx="1.6" ry="0.9" transform="rotate(143 -3.7 5.3)"/><ellipse cx="-6.3" cy="-2.4" rx="1.5" ry="1.4" transform="rotate(59 -6.3 -2.4)"/><ellipse cx="-5.2" cy="6.6" rx="2.5" ry="1.4" transform="rotate(19 -5.2 6.6)"/><ellipse cx="4.9" cy="-1.8" rx="2.6" ry="1.5" transform="rotate(150 4.9 -1.8)"/><ellipse cx="6.4" cy="0.4" rx="2.5" ry="1.6" transform="rotate(52 6.4 0.4)"/><ellipse cx="-11.0" cy="-3.7" rx="1.9" ry="0.9" transform="rotate(62 -11.0 -3.7)"/><ellipse cx="10.1" cy="3.3" rx="1.6" ry="1.1" transform="rotate(63 10.1 3.3)"/><ellipse cx="-5.6" cy="5.7" rx="1.9" ry="1.3" transform="rotate(27 -5.6 5.7)"/><ellipse cx="9.6" cy="-9.6" rx="1.9" ry="1.4" transform="rotate(179 9.6 -9.6)"/><ellipse cx="9.1" cy="4.6" rx="2.2" ry="1.2" transform="rotate(170 9.1 4.6)"/><ellipse cx="4.6" cy="-2.9" rx="1.9" ry="1.8" transform="rotate(96 4.6 -2.9)"/><ellipse cx="-10.6" cy="-9.3" rx="2.2" ry="1.4" transform="rotate(163 -10.6 -9.3)"/><ellipse cx="-10.1" cy="-2.7" rx="2.2" ry="0.9" transform="rotate(18 -10.1 -2.7)"/><ellipse cx="-12.6" cy="-6.5" rx="2.1" ry="1.3" transform="rotate(14 -12.6 -6.5)"/><ellipse cx="-4.2" cy="8.2" rx="2.2" ry="1.1" transform="rotate(160 -4.2 8.2)"/><ellipse cx="3.1" cy="8.6" rx="2.4" ry="1.2" transform="rotate(122 3.1 8.6)"/></g></g>
<g transform="translate(366,62) rotate(-65) scale(0.86)"><g fill="#a83030" opacity="0.3"><ellipse cx="-7.5" cy="-4.5" rx="8" ry="3.4" transform="rotate(-130 -7.5 -4.5)"/><ellipse cx="7.5" cy="-4.5" rx="8" ry="3.4" transform="rotate(-50 7.5 -4.5)"/><ellipse cx="0" cy="4" rx="11.5" ry="6"/></g><path d="M10.7 5.4Q7.4 4.8 8.7 1.7M8.1 4.9Q5.0 3.0 3.2 6.1M8.7 -1.0Q5.3 1.1 6.7 4.8M-2.5 4.9Q0.2 2.8 1.9 5.8M0.6 6.5Q-1.8 4.1 -3.7 6.9M2.9 2.6Q6.3 0.6 4.7 -2.9M2.6 10.0Q-0.9 9.3 0.1 5.8M-2.9 -0.9Q0.3 1.1 -1.5 4.3M7.0 5.2Q3.6 4.1 2.7 7.6M-1.1 5.0Q-2.7 1.9 0.6 0.8M-3.5 0.9Q-5.3 -1.8 -2.2 -2.9M-4.9 6.0Q-0.7 7.1 1.6 3.4M5.6 -0.5Q5.6 3.3 9.5 3.7M9.5 2.7Q6.4 3.6 8.1 6.4M-6.7 9.4Q-5.8 5.9 -2.5 7.1M-6.7 2.6Q-5.5 -0.6 -8.8 -1.4M-10.0 4.7Q-7.6 2.7 -10.4 1.5M-5.2 6.2Q-8.6 6.7 -8.7 3.3M-3.4 -1.6Q-1.5 -4.2 -4.5 -5.4M3.7 2.7Q0.0 3.7 0.8 7.4M6.4 3.5Q9.4 1.4 11.5 4.5M2.2 -2.7Q-1.6 -3.4 -2.9 0.3M-3.7 2.3Q-4.0 -1.4 -7.7 -1.2M-0.9 4.8Q1.1 7.9 -2.0 10.0" stroke="#8a0c10" stroke-width="0.95" fill="none" stroke-linecap="round"/><path d="M3.4 1.5Q2.5 4.9 6.0 5.5M5.2 -1.6Q8.5 -0.8 8.8 -4.1M-6.0 -7.8Q-9.6 -5.5 -12.7 -8.3M-6.1 0.8Q-5.8 -2.2 -8.6 -1.2M-7.7 2.2Q-7.8 5.2 -10.4 3.6M-1.5 0.4Q-1.8 4.2 -5.7 4.3M0.6 10.0Q0.7 6.7 -2.6 7.4M3.7 -4.6Q3.9 -1.4 0.7 -2.2M-3.5 4.7Q-3.6 1.3 -0.3 1.9M10.2 5.1Q8.9 2.2 6.6 4.4M-0.3 2.3Q2.4 5.0 5.4 2.6M5.6 6.7Q4.8 3.6 7.9 4.0M-6.3 3.2Q-3.0 1.2 -4.7 -2.2M2.0 0.1Q2.6 3.1 5.2 1.4M9.9 2.8Q5.8 2.6 4.8 6.5M-5.7 7.6Q-6.4 4.0 -10.0 4.7M4.7 2.3Q4.0 -0.8 7.1 -0.5M-3.4 -1.2Q-6.8 -0.7 -6.6 -4.1M6.3 0.6Q9.5 -1.2 11.2 2.1M9.5 7.3Q8.3 3.9 5.0 5.4M-9.2 -3.2Q-6.8 -5.3 -5.8 -2.3M-6.5 8.6Q-10.4 8.0 -10.4 4.1M-10.5 2.1Q-11.3 -1.0 -8.1 -0.9" stroke="#b81a1a" stroke-width="0.9" fill="none" stroke-linecap="round"/><path d="M0.4 1.0Q2.9 3.5 5.2 0.9M-5.6 4.5Q-6.2 8.7 -2.3 10.2M2.9 4.1Q4.2 0.3 8.1 1.0M8.2 8.6Q5.0 6.9 6.8 3.9M5.5 -6.7Q4.8 -3.6 8.0 -4.0M7.3 -2.2Q4.5 0.2 2.0 -2.5M-9.7 6.4Q-10.5 2.4 -6.8 0.8M8.9 5.1Q6.6 2.5 4.4 5.1M-1.2 4.6Q-2.7 8.7 -7.0 8.5M6.8 9.1Q2.8 8.1 3.1 4.0M5.6 -4.6Q7.9 -1.9 5.1 0.4M-7.0 -1.3Q-5.4 1.3 -3.8 -1.3M0.6 10.0Q-1.5 12.5 -3.3 9.8M11.4 -7.7Q8.0 -7.6 8.7 -4.2M-7.0 5.0Q-7.8 1.4 -11.4 2.0M-13.0 -9.4Q-14.9 -6.8 -11.8 -5.6M-2.2 6.5Q1.4 6.6 1.2 10.2M-2.8 0.1Q-0.4 -1.9 0.5 1.1M-11.8 -10.1Q-8.7 -10.9 -8.8 -7.7M0.9 -0.8Q3.0 2.0 0.0 3.8M7.8 4.6Q6.6 7.4 4.6 5.1M6.2 6.7Q3.1 5.0 1.6 8.2M5.8 -5.3Q4.2 -1.6 7.5 0.8" stroke="#d04848" stroke-width="0.75" fill="none" stroke-linecap="round"/><g fill="none" stroke="#a81418" stroke-width="0.9"><ellipse cx="-11.2" cy="2.2" rx="1.7" ry="0.9" transform="rotate(106 -11.2 2.2)"/><ellipse cx="-0.1" cy="7.0" rx="2.5" ry="1.0" transform="rotate(54 -0.1 7.0)"/><ellipse cx="-9.5" cy="4.6" rx="2.4" ry="1.4" transform="rotate(126 -9.5 4.6)"/><ellipse cx="3.9" cy="-3.2" rx="1.8" ry="1.8" transform="rotate(71 3.9 -3.2)"/><ellipse cx="-9.1" cy="-7.4" rx="1.9" ry="1.6" transform="rotate(16 -9.1 -7.4)"/><ellipse cx="-3.2" cy="-0.1" rx="1.3" ry="1.3" transform="rotate(94 -3.2 -0.1)"/><ellipse cx="9.0" cy="1.5" rx="2.2" ry="1.5" transform="rotate(40 9.0 1.5)"/><ellipse cx="-11.9" cy="-9.5" rx="1.7" ry="1.3" transform="rotate(111 -11.9 -9.5)"/><ellipse cx="-6.1" cy="3.5" rx="1.9" ry="1.7" transform="rotate(64 -6.1 3.5)"/><ellipse cx="9.1" cy="-3.9" rx="2.5" ry="1.4" transform="rotate(145 9.1 -3.9)"/><ellipse cx="-5.1" cy="7.9" rx="1.2" ry="1.5" transform="rotate(180 -5.1 7.9)"/><ellipse cx="6.9" cy="8.6" rx="1.3" ry="1.3" transform="rotate(110 6.9 8.6)"/><ellipse cx="-2.1" cy="-2.5" rx="2.3" ry="1.0" transform="rotate(8 -2.1 -2.5)"/><ellipse cx="10.5" cy="3.8" rx="1.6" ry="1.7" transform="rotate(7 10.5 3.8)"/><ellipse cx="-8.1" cy="6.7" rx="2.5" ry="1.2" transform="rotate(164 -8.1 6.7)"/><ellipse cx="-3.0" cy="-0.5" rx="1.6" ry="1.5" transform="rotate(9 -3.0 -0.5)"/></g></g>
<g transform="translate(404,74.5) rotate(8) scale(0.95)"><g fill="#a83030" opacity="0.3"><ellipse cx="-7.5" cy="-4.5" rx="8" ry="3.4" transform="rotate(-130 -7.5 -4.5)"/><ellipse cx="7.5" cy="-4.5" rx="8" ry="3.4" transform="rotate(-50 7.5 -4.5)"/><ellipse cx="0" cy="4" rx="11.5" ry="6"/></g><path d="M4.3 8.7Q1.0 10.8 -1.6 7.8M-5.1 -4.0Q-5.0 0.1 -1.0 0.9M6.6 5.5Q8.6 3.1 9.8 5.9M-9.9 7.2Q-6.7 7.0 -7.9 4.0M1.4 9.2Q5.5 8.5 5.6 4.3M3.8 -0.0Q6.6 -1.8 7.9 1.3M7.1 6.9Q6.7 3.9 4.2 5.6M-4.0 9.4Q-1.0 8.1 -3.0 5.5M-3.6 0.2Q-5.1 -3.3 -8.7 -2.0M-7.9 2.0Q-6.5 -1.4 -3.1 0.0M-9.6 1.2Q-6.8 3.5 -9.2 6.2M-10.0 4.6Q-5.9 3.7 -5.8 -0.5M-6.6 5.2Q-9.3 2.5 -6.8 -0.4M-12.8 -6.2Q-12.0 -3.2 -9.5 -5.1M9.5 0.6Q8.2 3.5 11.3 3.9M-2.0 5.9Q-3.5 8.7 -5.4 6.2M6.1 -2.0Q3.9 -4.1 3.1 -1.2M-3.1 -3.1Q0.7 -5.1 3.7 -1.9M0.1 -1.0Q-1.4 2.4 2.0 3.7M1.2 6.5Q-2.9 6.1 -4.0 10.1M-5.8 2.0Q-7.7 -0.3 -4.7 -1.0M3.3 6.7Q0.9 8.8 -0.3 5.9M-4.3 6.6Q-1.0 5.3 0.3 8.7M-6.6 -0.0Q-9.6 0.4 -8.6 -2.4" stroke="#8a0c10" stroke-width="0.95" fill="none" stroke-linecap="round"/><path d="M-11.7 -3.9Q-9.9 -0.8 -6.9 -2.7M-1.3 0.0Q-5.0 -0.5 -4.6 -4.2M-1.4 1.8Q-4.7 2.7 -3.3 5.8M2.9 -2.5Q-0.0 -5.4 -3.5 -3.2M-12.2 -6.9Q-8.6 -8.7 -6.1 -5.5M6.8 -0.1Q5.2 2.6 3.2 0.1M3.9 -2.2Q0.3 -2.2 0.5 1.4M7.4 8.2Q4.7 10.4 3.0 7.4M2.5 7.0Q6.1 5.1 8.4 8.3M2.2 1.5Q3.5 -2.1 7.3 -1.1M-2.6 4.4Q-5.7 3.4 -3.8 0.8M4.6 5.6Q2.7 3.1 1.1 5.8M-5.4 5.0Q-9.0 5.6 -9.7 2.0M8.6 -4.1Q9.7 -0.9 6.3 -0.1M3.8 -0.4Q2.2 -2.9 0.7 -0.3M-2.9 8.1Q-1.1 5.2 -4.2 3.7M-4.3 -3.7Q-7.4 -1.7 -9.6 -4.7M-8.3 -3.3Q-5.1 -2.2 -6.7 0.8M-0.7 7.1Q0.9 3.2 5.1 3.7M8.9 -1.0Q6.1 0.5 8.5 2.7M-1.6 9.4Q0.7 7.0 -2.1 5.1M5.4 4.5Q4.6 8.2 0.8 7.7M-5.3 -2.2Q-2.3 -3.5 -1.9 -0.3" stroke="#b81a1a" stroke-width="0.9" fill="none" stroke-linecap="round"/><path d="M-6.6 6.2Q-7.4 3.3 -4.4 3.9M0.7 0.7Q2.8 3.5 5.3 1.0M4.9 -6.3Q5.9 -2.5 2.2 -1.2M7.9 7.9Q8.8 4.4 5.2 3.6M7.8 -8.7Q4.5 -6.8 6.1 -3.3M-4.8 3.2Q-8.0 4.2 -8.6 0.9M-2.5 4.4Q-5.1 2.3 -6.4 5.3M7.5 1.1Q11.2 0.6 11.7 4.3M-5.6 1.1Q-7.0 -1.9 -3.8 -2.4M-7.4 -8.0Q-10.6 -6.9 -11.1 -10.2M-0.6 5.0Q-1.2 1.6 2.3 1.4M-4.0 6.3Q-1.3 4.3 -3.8 2.1M6.9 5.9Q4.7 2.6 1.2 4.3M10.1 5.7Q10.0 2.6 7.1 3.8M-5.7 8.8Q-8.7 8.0 -6.9 5.4M6.4 0.4Q2.7 -0.5 1.4 3.1M3.5 -1.9Q2.4 2.0 6.0 3.9M-6.4 -6.8Q-9.3 -3.9 -7.0 -0.5M-3.8 5.8Q-3.4 2.3 -6.9 2.4M-10.5 5.8Q-12.1 3.1 -9.0 2.8M-5.2 -5.2Q-7.4 -1.8 -11.2 -3.3M-6.4 3.1Q-5.3 6.1 -8.5 6.2M8.0 -7.8Q6.1 -4.1 9.3 -1.4" stroke="#d04848" stroke-width="0.75" fill="none" stroke-linecap="round"/><g fill="none" stroke="#a81418" stroke-width="0.9"><ellipse cx="-7.2" cy="-2.2" rx="1.7" ry="1.5" transform="rotate(134 -7.2 -2.2)"/><ellipse cx="-6.4" cy="-2.7" rx="1.3" ry="1.0" transform="rotate(137 -6.4 -2.7)"/><ellipse cx="-6.0" cy="-1.4" rx="1.9" ry="1.3" transform="rotate(65 -6.0 -1.4)"/><ellipse cx="11.3" cy="-5.9" rx="1.8" ry="1.7" transform="rotate(145 11.3 -5.9)"/><ellipse cx="-6.5" cy="-6.9" rx="2.3" ry="0.8" transform="rotate(24 -6.5 -6.9)"/><ellipse cx="1.0" cy="0.4" rx="1.4" ry="0.9" transform="rotate(37 1.0 0.4)"/><ellipse cx="8.6" cy="-1.4" rx="2.6" ry="1.6" transform="rotate(176 8.6 -1.4)"/><ellipse cx="-6.0" cy="-6.8" rx="2.3" ry="1.2" transform="rotate(47 -6.0 -6.8)"/><ellipse cx="4.1" cy="3.9" rx="2.5" ry="1.6" transform="rotate(45 4.1 3.9)"/><ellipse cx="-7.1" cy="-8.8" rx="1.2" ry="1.4" transform="rotate(161 -7.1 -8.8)"/><ellipse cx="10.0" cy="2.1" rx="1.8" ry="1.3" transform="rotate(31 10.0 2.1)"/><ellipse cx="-10.1" cy="4.1" rx="2.6" ry="1.3" transform="rotate(73 -10.1 4.1)"/><ellipse cx="-4.7" cy="-1.6" rx="2.3" ry="1.3" transform="rotate(173 -4.7 -1.6)"/><ellipse cx="-11.0" cy="-5.1" rx="1.9" ry="1.2" transform="rotate(153 -11.0 -5.1)"/><ellipse cx="2.4" cy="0.7" rx="1.9" ry="1.1" transform="rotate(128 2.4 0.7)"/><ellipse cx="13.2" cy="-10.4" rx="2.1" ry="1.2" transform="rotate(93 13.2 -10.4)"/></g></g>
<g transform="translate(379,93) rotate(75) scale(0.9)"><g fill="#a83030" opacity="0.3"><ellipse cx="-7.5" cy="-4.5" rx="8" ry="3.4" transform="rotate(-130 -7.5 -4.5)"/><ellipse cx="7.5" cy="-4.5" rx="8" ry="3.4" transform="rotate(-50 7.5 -4.5)"/><ellipse cx="0" cy="4" rx="11.5" ry="6"/></g><path d="M-10.5 -10.3Q-12.3 -6.5 -9.0 -3.8M6.6 -5.2Q9.3 -6.8 6.9 -9.0M-5.6 8.0Q-8.7 6.7 -6.7 4.0M-1.8 3.2Q-2.4 6.4 -5.3 4.9M5.0 7.0Q1.0 6.2 1.1 2.1M-5.4 9.3Q-2.5 7.3 -4.7 4.5M-9.7 -5.4Q-10.7 -8.8 -7.3 -9.5M-1.9 2.4Q-5.1 1.7 -5.0 5.0M-4.2 5.6Q-6.1 2.5 -9.2 4.5M-3.3 1.5Q-3.6 -2.4 -7.5 -2.5M7.0 1.0Q3.6 -0.9 5.0 -4.5M-6.3 6.7Q-3.5 5.4 -3.3 8.5M-7.8 8.4Q-6.7 5.3 -10.0 4.9M4.2 -2.9Q7.7 -1.9 6.5 1.5M-2.9 5.8Q0.1 7.1 -1.9 9.7M-6.5 1.2Q-10.5 -0.2 -10.0 -4.4M6.5 3.7Q5.3 0.8 8.4 0.9M3.8 -4.2Q6.6 -1.5 9.5 -4.0M11.6 -8.1Q10.4 -5.2 8.2 -7.5M5.7 7.0Q3.5 4.9 6.4 4.0M2.7 1.5Q-1.0 1.5 -1.1 -2.3M-5.9 8.6Q-7.8 5.8 -4.6 4.5M11.4 -8.9Q10.9 -5.8 8.2 -7.4M-4.6 9.1Q-2.0 7.2 -4.6 5.3" stroke="#8a0c10" stroke-width="0.95" fill="none" stroke-linecap="round"/><path d="M9.6 -8.2Q6.2 -6.6 7.6 -3.0M3.2 -2.2Q6.5 -1.8 5.4 1.4M5.6 -4.8Q7.0 -1.8 3.7 -1.0M-8.2 -7.8Q-5.3 -4.9 -7.5 -1.4M4.3 1.2Q1.7 -2.1 4.2 -5.5M3.0 -0.8Q2.9 -4.5 6.6 -4.9M6.6 -4.8Q5.9 -8.0 9.2 -7.9M-2.1 2.1Q-1.1 -1.5 -4.6 -2.8M1.3 4.3Q1.3 0.9 -2.1 1.4M8.0 -7.9Q10.4 -5.9 11.2 -8.9M12.0 -6.6Q8.1 -6.8 7.5 -3.0M-3.9 8.2Q-4.8 4.6 -1.2 3.6M5.1 4.5Q4.6 0.8 1.0 1.3M9.2 4.6Q8.5 7.7 5.8 6.0M-10.7 -10.7Q-7.4 -8.0 -9.1 -4.2M8.2 7.0Q9.6 4.1 6.4 3.4M9.5 -3.2Q9.1 -6.8 5.5 -6.2M3.7 2.0Q-0.2 2.4 -1.1 -1.4M3.3 0.6Q0.6 2.0 3.1 3.8M0.6 -2.4Q4.3 -3.0 5.2 0.7M-0.6 3.3Q-3.8 5.1 -5.7 1.8M-1.9 5.3Q0.2 7.6 -2.7 8.6M0.6 6.4Q-0.6 2.8 2.9 1.1" stroke="#b81a1a" stroke-width="0.9" fill="none" stroke-linecap="round"/><path d="M5.5 -0.4Q8.9 0.7 7.6 4.0M4.3 -2.0Q2.9 1.2 6.2 2.4M-10.6 3.9Q-11.8 6.7 -8.7 6.5M4.9 8.8Q7.1 6.7 4.3 5.7M-7.8 -3.1Q-10.1 -5.7 -7.2 -7.6M-6.5 -4.3Q-4.6 -0.5 -0.4 -1.2M5.7 2.2Q2.0 4.3 3.1 8.4M2.7 -0.6Q-1.5 0.2 -3.3 -3.6M3.3 -5.2Q6.4 -6.3 6.7 -3.0M-6.8 9.3Q-5.1 5.7 -8.5 3.6M-5.5 -3.3Q-5.7 -0.3 -8.2 -1.9M10.6 -2.7Q7.8 -5.6 10.1 -8.9M-5.2 2.0Q-1.9 2.0 -2.5 5.3M-0.7 -2.1Q1.9 0.1 3.6 -2.8M-10.7 -6.9Q-7.6 -6.9 -8.8 -9.8M4.2 5.4Q2.0 1.9 5.0 -0.9M-4.4 5.6Q-5.0 1.7 -1.2 0.5M2.7 2.5Q6.5 2.8 6.3 6.6M0.9 5.8Q1.6 8.9 4.2 7.2M4.2 -0.2Q0.6 1.4 -1.3 -2.0M6.6 0.3Q3.3 0.9 3.6 -2.4M-2.1 5.4Q-4.4 1.8 -8.6 3.0M-1.9 0.3Q-5.4 -0.6 -4.4 -4.0" stroke="#d04848" stroke-width="0.75" fill="none" stroke-linecap="round"/><g fill="none" stroke="#a81418" stroke-width="0.9"><ellipse cx="-4.5" cy="-6.4" rx="2.2" ry="1.4" transform="rotate(119 -4.5 -6.4)"/><ellipse cx="-4.9" cy="-0.3" rx="2.3" ry="1.6" transform="rotate(162 -4.9 -0.3)"/><ellipse cx="7.8" cy="3.7" rx="1.6" ry="1.4" transform="rotate(34 7.8 3.7)"/><ellipse cx="11.8" cy="-5.4" rx="1.3" ry="1.6" transform="rotate(139 11.8 -5.4)"/><ellipse cx="10.8" cy="1.4" rx="1.6" ry="0.9" transform="rotate(11 10.8 1.4)"/><ellipse cx="-1.9" cy="5.0" rx="2.1" ry="1.0" transform="rotate(144 -1.9 5.0)"/><ellipse cx="-9.8" cy="6.9" rx="1.5" ry="0.8" transform="rotate(87 -9.8 6.9)"/><ellipse cx="-4.8" cy="1.3" rx="2.0" ry="1.5" transform="rotate(165 -4.8 1.3)"/><ellipse cx="-5.2" cy="2.9" rx="1.4" ry="1.1" transform="rotate(17 -5.2 2.9)"/><ellipse cx="11.6" cy="-4.6" rx="2.2" ry="1.7" transform="rotate(69 11.6 -4.6)"/><ellipse cx="-9.4" cy="-6.8" rx="1.9" ry="1.2" transform="rotate(13 -9.4 -6.8)"/><ellipse cx="11.2" cy="3.0" rx="2.4" ry="1.6" transform="rotate(131 11.2 3.0)"/><ellipse cx="10.4" cy="4.6" rx="1.8" ry="1.6" transform="rotate(165 10.4 4.6)"/><ellipse cx="-12.6" cy="-9.4" rx="1.4" ry="1.3" transform="rotate(156 -12.6 -9.4)"/><ellipse cx="0.9" cy="8.4" rx="1.7" ry="1.4" transform="rotate(44 0.9 8.4)"/><ellipse cx="4.5" cy="-6.2" rx="1.2" ry="1.2" transform="rotate(101 4.5 -6.2)"/></g></g>
<circle cx="386.4" cy="199.5" r="25.3" fill="url(#gs)"/>
<g transform="translate(362.9,172.5) rotate(-41) scale(1.13)"><path d="M-12 -2 Q-11 -6 -7 -6 M-11 3 Q-10 7 -6 6" stroke="#d8d8d8" stroke-width="2.6" fill="none" stroke-linecap="round"/><path d="M-12 -2 Q-11 -6 -7 -6 M-11 3 Q-10 7 -6 6" stroke="#fdfdfd" stroke-width="1.6" fill="none" stroke-linecap="round"/><ellipse cx="0.5" cy="0" rx="9" ry="6" fill="#f2d2aa" opacity="0.45"/><path d="M1.4 -1.0Q0.9 -3.1 -1.2 -2.4M-0.9 2.6Q-3.0 2.2 -2.4 0.2M-1.3 -1.2Q0.3 0.3 -1.2 2.0M-4.8 -1.3Q-4.8 1.6 -2.1 2.7M-1.2 -6.1Q-3.4 -5.9 -2.9 -3.8M5.0 4.6Q3.1 3.1 4.4 1.0M-2.8 -1.1Q-3.5 1.5 -1.3 3.0M3.0 -6.0Q2.6 -3.7 0.3 -3.9M0.5 4.3Q2.3 2.0 0.9 -0.5" stroke="#d88c40" stroke-width="1.3" fill="none" stroke-linecap="round"/><path d="M-3.4 -3.5Q-1.5 -5.8 1.3 -5.0M-3.9 -1.9Q-1.7 -1.6 -1.3 -3.8M7.3 -3.3Q8.1 -0.8 6.0 0.7M3.5 -3.6Q1.4 -5.6 -1.2 -4.4M-3.4 0.3Q-5.3 -1.6 -7.7 -0.4M-5.8 1.5Q-5.3 -1.2 -2.5 -1.8M3.9 0.1Q2.4 -1.6 0.7 -0.1M-8.9 1.0Q-8.1 3.2 -5.8 2.6M7.4 2.2Q7.0 0.2 5.1 1.0" stroke="#f0bc7c" stroke-width="1.2" fill="none" stroke-linecap="round"/><path d="M-1.6 -5.1Q-3.9 -4.6 -3.8 -2.3M-0.1 4.5Q-2.5 3.7 -2.2 1.2M5.6 -0.3Q5.8 2.1 3.5 2.7M2.0 -6.1Q0.1 -7.6 -1.6 -5.9M2.4 2.6Q2.4 0.1 -0.1 -0.5M-8.6 -1.1Q-8.3 1.0 -6.4 0.3M2.8 -2.1Q0.8 -0.0 2.0 2.6M1.9 -1.5Q2.0 1.3 -0.6 2.5" stroke="#8a4e1c" stroke-width="1.2" fill="none" stroke-linecap="round"/><path d="M-2.3 -4.1Q0.2 0 -1.8 3.9M1.3 -4.3Q3.8 0 1.8 3.9" stroke="#7e4618" stroke-width="1.2" fill="none" stroke-linecap="round"/></g>
<g transform="translate(388.5,162) rotate(3) scale(1.13)"><path d="M-12 -2 Q-11 -6 -7 -6 M-11 3 Q-10 7 -6 6" stroke="#d8d8d8" stroke-width="2.6" fill="none" stroke-linecap="round"/><path d="M-12 -2 Q-11 -6 -7 -6 M-11 3 Q-10 7 -6 6" stroke="#fdfdfd" stroke-width="1.6" fill="none" stroke-linecap="round"/><ellipse cx="0.5" cy="0" rx="9" ry="6" fill="#f2d2aa" opacity="0.45"/><path d="M-1.0 0.8Q-0.1 -1.4 2.3 -0.8M7.6 1.4Q6.3 -0.5 8.2 -1.9M4.2 -2.6Q5.9 -1.2 4.6 0.6M-0.3 2.5Q1.9 3.7 1.2 6.0M-2.6 -0.7Q-1.2 -2.7 1.0 -1.6M-5.4 0.8Q-2.9 0.2 -3.0 -2.4M2.0 -6.0Q4.1 -6.7 5.0 -4.6M3.2 -1.7Q4.7 -3.2 5.9 -1.5M-0.1 1.6Q0.6 -0.6 2.7 0.1" stroke="#d88c40" stroke-width="1.3" fill="none" stroke-linecap="round"/><path d="M-8.1 -2.8Q-5.3 -2.9 -4.3 -0.3M0.4 2.0Q-1.7 0.4 -3.8 2.0M1.3 -5.5Q3.5 -5.7 3.8 -3.5M-1.6 -1.6Q-2.6 1.2 -5.5 1.4M6.4 -3.5Q8.6 -2.1 8.0 0.5M-1.8 -3.5Q0.2 -4.6 1.3 -2.6M0.9 3.3Q1.7 0.7 4.4 0.8M1.6 -0.8Q1.0 -2.8 3.0 -3.1M-5.2 -1.3Q-3.6 0.7 -5.2 2.8" stroke="#f0bc7c" stroke-width="1.2" fill="none" stroke-linecap="round"/><path d="M1.9 -1.5Q0.3 0.7 -2.3 -0.2M3.1 -1.3Q0.3 -0.6 -1.5 -2.8M-8.5 1.8Q-9.8 -0.0 -8.0 -1.3M-2.1 5.0Q-4.2 4.9 -3.8 2.8M3.7 -1.6Q2.6 0.2 1.1 -1.3M-1.0 -2.4Q-2.8 -4.1 -1.4 -6.1M-3.0 2.6Q-0.1 2.5 0.8 -0.1M-3.8 -5.8Q-1.1 -7.0 1.1 -5.1" stroke="#8a4e1c" stroke-width="1.2" fill="none" stroke-linecap="round"/><path d="M-2.2 -4.1Q0.3 0 -1.7 3.9M1.6 -4.4Q4.1 0 2.1 3.8" stroke="#7e4618" stroke-width="1.2" fill="none" stroke-linecap="round"/></g>
<g transform="translate(419.8,181) rotate(61) scale(1.13)"><path d="M-12 -2 Q-11 -6 -7 -6 M-11 3 Q-10 7 -6 6" stroke="#d8d8d8" stroke-width="2.6" fill="none" stroke-linecap="round"/><path d="M-12 -2 Q-11 -6 -7 -6 M-11 3 Q-10 7 -6 6" stroke="#fdfdfd" stroke-width="1.6" fill="none" stroke-linecap="round"/><ellipse cx="0.5" cy="0" rx="9" ry="6" fill="#f2d2aa" opacity="0.45"/><path d="M-0.5 2.2Q-2.6 1.8 -1.9 -0.3M-7.7 -1.1Q-5.5 -0.9 -5.6 1.4M-1.4 0.3Q-2.7 2.3 -0.8 3.8M-2.6 -2.2Q-5.1 -3.2 -6.7 -1.1M-0.2 -2.0Q-2.4 -3.1 -1.6 -5.4M-5.2 -0.9Q-3.0 0.4 -1.3 -1.4M0.7 4.0Q-1.4 3.8 -1.3 5.9M-3.8 2.7Q-2.0 0.8 -3.5 -1.4M-0.8 4.0Q0.8 6.2 3.4 5.3" stroke="#d88c40" stroke-width="1.3" fill="none" stroke-linecap="round"/><path d="M2.9 -0.6Q2.7 -2.8 4.9 -2.9M1.1 0.1Q2.0 2.5 4.6 2.1M-5.9 1.5Q-7.5 -0.1 -5.8 -1.5M-0.7 0.7Q1.7 2.0 1.1 4.7M-1.0 1.6Q0.1 3.6 2.2 2.6M5.2 -1.2Q2.3 -1.0 1.2 -3.7M-0.2 1.6Q-1.2 3.9 0.8 5.4M-0.2 -0.8Q-0.8 1.8 1.5 3.0M0.8 3.7Q0.1 6.2 -2.6 6.2" stroke="#f0bc7c" stroke-width="1.2" fill="none" stroke-linecap="round"/><path d="M3.2 -5.0Q2.5 -2.9 0.5 -3.9M-0.5 -1.6Q2.0 -2.8 3.8 -0.8M-4.5 -2.2Q-4.1 -4.2 -6.2 -4.2M5.7 4.6Q6.0 2.4 3.8 2.3M4.1 -4.0Q5.3 -2.1 3.4 -0.9M1.6 -2.1Q1.3 0.5 -1.3 1.1M1.6 -6.0Q-0.5 -5.9 -0.1 -3.9M-3.3 0.0Q-3.8 2.4 -6.2 2.4" stroke="#8a4e1c" stroke-width="1.2" fill="none" stroke-linecap="round"/><path d="M-2.1 -3.9Q0.4 0 -1.6 4.0M1.7 -3.8Q4.2 0 2.2 3.6" stroke="#7e4618" stroke-width="1.2" fill="none" stroke-linecap="round"/></g>
<g transform="translate(418.8,215) rotate(115) scale(1.13)"><path d="M-12 -2 Q-11 -6 -7 -6 M-11 3 Q-10 7 -6 6" stroke="#d8d8d8" stroke-width="2.6" fill="none" stroke-linecap="round"/><path d="M-12 -2 Q-11 -6 -7 -6 M-11 3 Q-10 7 -6 6" stroke="#fdfdfd" stroke-width="1.6" fill="none" stroke-linecap="round"/><ellipse cx="0.5" cy="0" rx="9" ry="6" fill="#f2d2aa" opacity="0.45"/><path d="M-4.8 2.6Q-7.2 1.1 -6.7 -1.6M-7.5 2.6Q-5.0 0.9 -2.5 2.5M2.8 2.2Q0.3 2.9 0.5 5.5M-0.8 1.5Q-2.9 1.1 -3.1 3.2M1.8 -2.0Q3.2 -3.9 1.4 -5.3M6.5 -3.9Q5.5 -1.3 7.7 0.5M-1.4 2.0Q-3.6 1.3 -4.4 3.5M-5.6 -2.8Q-5.6 -0.7 -7.6 -1.1M-4.7 4.5Q-2.8 3.4 -1.8 5.4" stroke="#d88c40" stroke-width="1.3" fill="none" stroke-linecap="round"/><path d="M3.0 2.3Q3.3 -0.3 5.8 -0.7M7.8 -3.3Q6.5 -1.3 4.3 -2.2M3.8 0.8Q5.4 -0.7 3.8 -2.1M1.0 0.9Q1.6 -1.7 4.2 -1.9M6.5 2.0Q5.4 0.2 3.7 1.6M0.0 5.7Q-1.7 4.3 -0.2 2.6M5.5 -4.3Q3.4 -5.7 1.6 -3.9M-1.3 -2.1Q-0.5 0.7 -2.7 2.6M2.4 4.8Q2.6 2.6 4.6 3.1" stroke="#f0bc7c" stroke-width="1.2" fill="none" stroke-linecap="round"/><path d="M-7.4 0.4Q-8.6 2.4 -6.7 3.6M5.1 0.9Q2.9 0.2 2.0 2.4M0.7 -2.9Q0.0 -0.7 2.2 0.2M-8.5 2.1Q-6.4 3.2 -5.2 1.1M-7.6 -2.8Q-6.2 -0.6 -8.0 1.2M-4.8 1.2Q-7.0 1.5 -6.7 3.7M-8.8 0.4Q-7.9 -1.6 -6.0 -0.5M-3.5 5.5Q-5.3 6.6 -6.2 4.7" stroke="#8a4e1c" stroke-width="1.2" fill="none" stroke-linecap="round"/><path d="M-2.1 -3.7Q0.4 0 -1.6 3.7M1.8 -4.4Q4.3 0 2.3 3.8" stroke="#7e4618" stroke-width="1.2" fill="none" stroke-linecap="round"/></g>
<g transform="translate(396.3,236.2) rotate(165) scale(1.13)"><path d="M-12 -2 Q-11 -6 -7 -6 M-11 3 Q-10 7 -6 6" stroke="#d8d8d8" stroke-width="2.6" fill="none" stroke-linecap="round"/><path d="M-12 -2 Q-11 -6 -7 -6 M-11 3 Q-10 7 -6 6" stroke="#fdfdfd" stroke-width="1.6" fill="none" stroke-linecap="round"/><ellipse cx="0.5" cy="0" rx="9" ry="6" fill="#f2d2aa" opacity="0.45"/><path d="M8.0 -2.0Q9.5 0.4 7.7 2.5M1.6 1.9Q-1.2 2.6 -1.5 5.4M-2.3 -2.7Q-3.6 -0.7 -5.7 -1.8M-2.6 -0.4Q-2.6 2.1 -5.0 2.6M-5.0 0.0Q-5.8 2.0 -3.7 2.8M-1.4 3.8Q1.4 3.7 2.4 6.2M-5.6 2.1Q-7.8 1.5 -7.4 -0.8M1.0 4.1Q2.4 2.7 0.6 1.7M5.8 -0.7Q3.8 -0.9 4.4 -2.9" stroke="#d88c40" stroke-width="1.3" fill="none" stroke-linecap="round"/><path d="M-8.6 1.3Q-7.3 3.2 -5.5 1.9M0.3 -4.3Q-1.6 -5.4 -2.6 -3.4M-4.9 -1.5Q-7.3 -2.4 -8.7 -0.2M2.6 -0.4Q4.1 1.4 2.4 3.0M1.9 6.2Q0.4 4.2 2.1 2.4M-6.0 2.7Q-6.2 4.9 -4.0 5.1M1.6 -0.4Q2.8 -2.4 4.8 -1.3M-2.0 -0.8Q-2.1 2.1 -4.8 3.2M3.5 2.6Q3.5 -0.1 0.9 -1.0" stroke="#f0bc7c" stroke-width="1.2" fill="none" stroke-linecap="round"/><path d="M-1.2 1.5Q-0.9 -1.1 1.7 -1.5M4.8 -5.4Q3.7 -7.2 2.1 -5.8M4.1 1.0Q6.0 2.8 8.3 1.5M0.4 4.3Q1.7 2.6 3.2 4.1M-2.7 -1.6Q-0.4 -0.6 1.1 -2.6M4.1 0.6Q3.3 2.9 0.9 2.3M-3.9 -5.1Q-4.2 -2.6 -6.8 -2.4M-2.3 1.4Q-3.9 3.6 -2.3 5.8" stroke="#8a4e1c" stroke-width="1.2" fill="none" stroke-linecap="round"/><path d="M-3.1 -3.6Q-0.6 0 -2.6 3.4M1.1 -3.8Q3.6 0 1.6 4.0" stroke="#7e4618" stroke-width="1.2" fill="none" stroke-linecap="round"/></g>
<g transform="translate(364,234.7) rotate(212) scale(1.13)"><path d="M-12 -2 Q-11 -6 -7 -6 M-11 3 Q-10 7 -6 6" stroke="#d8d8d8" stroke-width="2.6" fill="none" stroke-linecap="round"/><path d="M-12 -2 Q-11 -6 -7 -6 M-11 3 Q-10 7 -6 6" stroke="#fdfdfd" stroke-width="1.6" fill="none" stroke-linecap="round"/><ellipse cx="0.5" cy="0" rx="9" ry="6" fill="#f2d2aa" opacity="0.45"/><path d="M-5.4 -0.6Q-7.3 -1.4 -7.7 0.7M-2.9 -3.7Q-5.3 -2.2 -4.6 0.5M6.9 1.0Q4.3 -0.1 2.6 2.0M-3.0 -1.6Q-4.6 -0.1 -5.9 -1.9M-2.0 5.2Q0.3 4.9 0.1 2.6M4.2 -0.5Q3.6 1.6 5.8 2.0M-2.6 1.0Q-4.4 -0.6 -6.3 0.9M2.2 -0.6Q3.7 1.3 5.8 0.1M3.2 2.7Q3.9 0.6 1.8 -0.3" stroke="#d88c40" stroke-width="1.3" fill="none" stroke-linecap="round"/><path d="M-1.2 -2.6Q-3.3 -3.7 -2.5 -6.0M-2.3 -0.3Q0.4 -0.9 0.8 -3.6M3.8 -3.4Q4.1 -1.4 6.0 -2.1M-0.0 0.2Q-2.2 0.8 -1.4 2.9M-3.1 3.3Q-5.4 4.3 -6.7 2.2M-1.8 -3.2Q0.4 -3.1 0.3 -0.9M-4.5 -0.8Q-6.2 -2.8 -4.7 -5.0M1.9 -3.3Q0.7 -1.3 -1.5 -2.3M-4.6 -1.2Q-3.8 1.3 -6.0 2.8" stroke="#f0bc7c" stroke-width="1.2" fill="none" stroke-linecap="round"/><path d="M-0.6 4.8Q-2.8 5.7 -3.9 3.6M-0.5 -5.4Q-2.3 -6.9 -3.9 -5.2M5.1 4.7Q3.2 3.8 2.7 5.8M-2.9 -3.8Q-1.5 -6.3 1.2 -5.9M-2.1 4.0Q0.2 2.5 2.3 4.2M-5.9 2.5Q-6.8 -0.0 -4.7 -1.7M-1.0 -1.3Q-3.0 -1.5 -2.5 -3.4M-1.0 -0.3Q0.7 -2.2 2.9 -1.0" stroke="#8a4e1c" stroke-width="1.2" fill="none" stroke-linecap="round"/><path d="M-3.5 -3.9Q-1.0 0 -3.0 4.2M1.3 -3.8Q3.8 0 1.8 3.5" stroke="#7e4618" stroke-width="1.2" fill="none" stroke-linecap="round"/></g>
<g transform="translate(348.1,204.3) rotate(263) scale(1.13)"><path d="M-12 -2 Q-11 -6 -7 -6 M-11 3 Q-10 7 -6 6" stroke="#d8d8d8" stroke-width="2.6" fill="none" stroke-linecap="round"/><path d="M-12 -2 Q-11 -6 -7 -6 M-11 3 Q-10 7 -6 6" stroke="#fdfdfd" stroke-width="1.6" fill="none" stroke-linecap="round"/><ellipse cx="0.5" cy="0" rx="9" ry="6" fill="#f2d2aa" opacity="0.45"/><path d="M-2.8 -0.3Q-5.1 -0.8 -5.9 1.5M5.8 0.3Q4.4 1.9 6.1 3.2M-0.9 1.6Q-2.2 3.2 -3.5 1.6M4.1 -1.0Q2.5 1.4 4.0 3.9M-2.1 -1.9Q-3.6 -3.5 -5.0 -1.9M-5.8 -0.8Q-3.3 -0.4 -3.2 2.1M-2.2 -3.9Q-3.8 -1.7 -6.3 -2.7M0.3 1.6Q-0.7 -0.7 1.4 -2.0M-3.1 0.9Q-1.9 3.6 1.0 3.6" stroke="#d88c40" stroke-width="1.3" fill="none" stroke-linecap="round"/><path d="M-4.1 4.4Q-3.9 1.5 -6.5 0.2M-3.7 -0.6Q-1.3 0.1 -1.8 2.5M2.1 -0.3Q-0.4 -1.5 -0.1 -4.3M-1.7 -5.5Q-1.4 -3.1 1.0 -3.1M-5.8 -1.0Q-4.4 0.8 -2.6 -0.6M4.5 -2.6Q2.7 -0.5 0.1 -1.6M-5.6 -1.5Q-7.6 -1.2 -7.5 -3.3M-0.6 -0.3Q1.8 0.1 1.8 2.5M-7.0 2.5Q-5.0 0.6 -6.2 -1.8" stroke="#f0bc7c" stroke-width="1.2" fill="none" stroke-linecap="round"/><path d="M2.0 2.8Q4.3 4.2 6.4 2.4M-1.1 5.1Q1.3 3.7 3.5 5.5M-0.7 3.2Q-1.6 5.1 -3.2 3.9M-5.2 5.4Q-5.1 3.0 -2.7 2.8M5.0 4.0Q6.5 2.3 4.8 0.9M0.3 0.4Q0.7 2.7 3.0 2.4M5.8 1.8Q4.0 -0.3 1.3 0.7M-6.3 1.6Q-7.8 0.1 -6.1 -1.2" stroke="#8a4e1c" stroke-width="1.2" fill="none" stroke-linecap="round"/><path d="M-3.9 -4.1Q-1.4 0 -3.4 4.0M1.8 -4.2Q4.3 0 2.3 3.9" stroke="#7e4618" stroke-width="1.2" fill="none" stroke-linecap="round"/></g>
</svg>
</body></html>
